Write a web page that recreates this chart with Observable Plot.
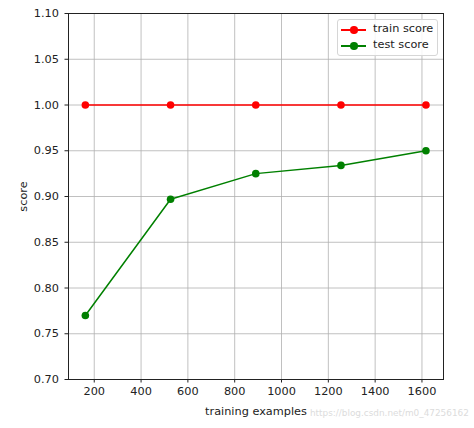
<!DOCTYPE html>
<html>
<head>
<meta charset="utf-8">
<script src="https://cdn.jsdelivr.net/npm/d3@7"></script>
<script src="https://cdn.jsdelivr.net/npm/@observablehq/plot@0.6"></script>
<style>
  html, body { margin: 0; padding: 0; background: #fff; }
  #wrap { position: relative; width: 474px; height: 428px; font-family: "DejaVu Sans", sans-serif; }
  #legend { position: absolute; left: 337px; top: 19px; width: 101px; height: 37px; box-sizing: border-box;
            border: 1px solid #d6d6d6; border-radius: 3px; background: rgba(255,255,255,0.85); font-size: 11.3px; color: #222; }
  .row { position: absolute; left: 0; height: 14px; width: 100%; }
  .row .ln { position: absolute; left: 3px; top: 7px; width: 25px; height: 1.5px; }
  .row .dt { position: absolute; left: 12px; top: 4px; width: 7.5px; height: 7.5px; border-radius: 50%; }
  .row .tx { position: absolute; left: 35px; top: 0px; white-space: nowrap; }
  #wm { position: absolute; left: 310px; top: 408px; font-size: 8.9px; color: #dcdcdc; white-space: nowrap; font-family: "DejaVu Sans", sans-serif; }
</style>
</head>
<body>
<div id="wrap"></div>
<script>
const trainSizes = [162, 526, 890, 1254, 1617];
const trainScore = [1.0, 1.0, 1.0, 1.0, 1.0];
const testScore = [0.770, 0.897, 0.925, 0.934, 0.950];
const xTicks = [200, 400, 600, 800, 1000, 1200, 1400, 1600];
const yTicks = [0.70, 0.75, 0.80, 0.85, 0.90, 0.95, 1.00, 1.05, 1.10];
const seriesNames = ["train score", "test score"];
const seriesColors = ["#ff0000", "#008000"];

const rows = [];
trainSizes.forEach((s, i) => {
  rows.push({series: seriesNames[0], size: s, score: trainScore[i]});
  rows.push({series: seriesNames[1], size: s, score: testScore[i]});
});

const chart = Plot.plot({
  width: 474,
  height: 428,
  marginLeft: 68,
  marginRight: 31,
  marginTop: 13,
  marginBottom: 49,
  style: {fontFamily: "'DejaVu Sans', sans-serif", fontSize: "11.3px", color: "#222", background: "#fff"},
  x: {domain: [90, 1692]},
  y: {domain: [0.70, 1.10]},
  color: {domain: seriesNames, range: seriesColors},
  marks: [
    Plot.gridX(xTicks, {stroke: "#b0b0b0", strokeOpacity: 1, strokeWidth: 0.8}),
    Plot.gridY(yTicks, {stroke: "#b0b0b0", strokeOpacity: 1, strokeWidth: 0.8}),
    Plot.axisX(xTicks, {tickSize: 3.5, tickPadding: 4, tickFormat: d3.format("d"), fontSize: 11.3, label: "training examples", labelAnchor: "center", labelArrow: "none", labelOffset: 35}),
    Plot.axisY(yTicks, {tickSize: 3.5, tickPadding: 6, tickFormat: d3.format(".2f"), fontSize: 11.3, label: "score", labelAnchor: "center", labelArrow: "none", labelOffset: 50}),
    Plot.line(rows, {x: "size", y: "score", z: "series", stroke: "series", strokeWidth: 1.5}),
    Plot.dot(rows, {x: "size", y: "score", fill: "series", r: 3.8}),
    Plot.frame({stroke: "#222", strokeWidth: 1})
  ]
});

const wrap = document.getElementById("wrap");
wrap.appendChild(chart);

const legend = document.createElement("div");
legend.id = "legend";
seriesNames.forEach((name, i) => {
  const r = document.createElement("div");
  r.className = "row";
  r.style.top = (2 + i * 16) + "px";
  r.innerHTML = `<div class="ln" style="background:${seriesColors[i]}"></div><div class="dt" style="background:${seriesColors[i]}"></div><div class="tx">${name}</div>`;
  legend.appendChild(r);
});
wrap.appendChild(legend);

const wm = document.createElement("div");
wm.id = "wm";
wm.textContent = "https://blog.csdn.net/m0_47256162";
wrap.appendChild(wm);
</script>
</body>
</html>
